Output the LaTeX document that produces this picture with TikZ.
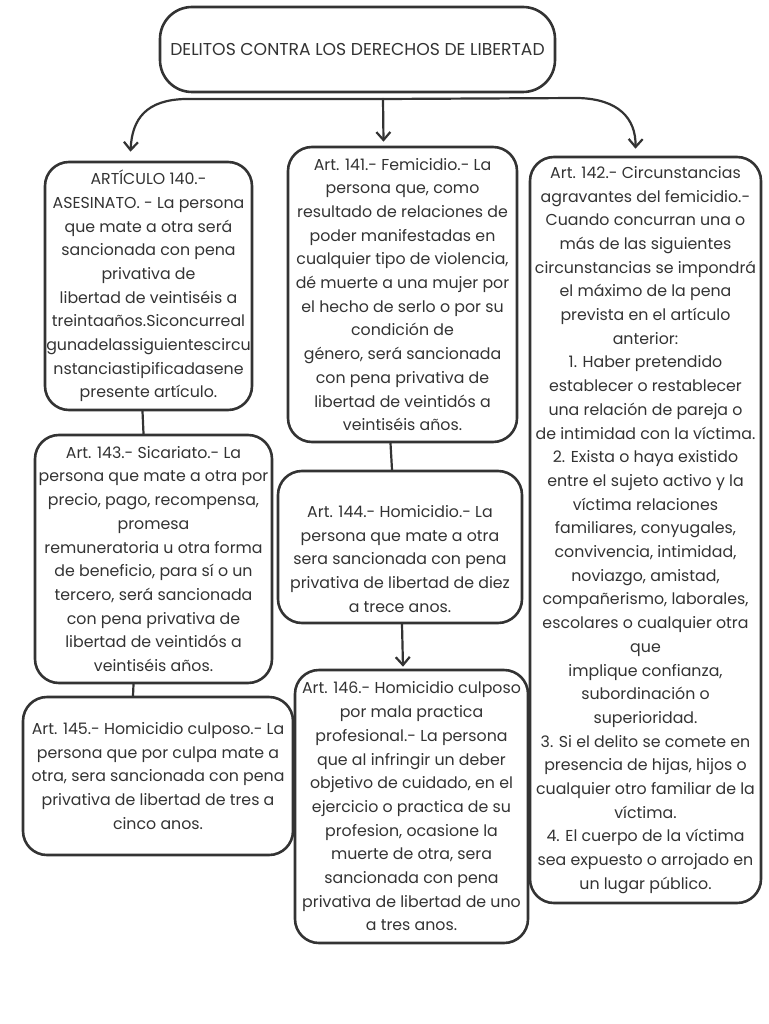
\documentclass[tikz,border=0pt]{standalone}
\usepackage{fontspec}
\setmainfont{Poppins}
\usetikzlibrary{arrows.meta}
\definecolor{ink}{HTML}{333333}
\definecolor{txt}{HTML}{333333}
\newcommand\boxfont{\fontsize{15.8}{23.7}\selectfont}
\newcommand\titlefont{\fontsize{17.2}{23.7}\selectfont}
\begin{document}
\begin{tikzpicture}[x=1pt,y=-1pt,
  box/.style={draw=ink, line width=2.6pt, rounded corners=24pt, align=center,
    text=txt, font=\boxfont, inner sep=0pt},
  link/.style={draw=ink, line width=2.2pt, line cap=round},
  arr/.style={link, -{Straight Barb[length=8pt,width=14pt,line width=2.2pt]}}]
\useasboundingbox[fill=white] (0,0) rectangle (768,1024);

\node[box, rounded corners=32pt, font=\titlefont, minimum width=395pt, minimum height=85pt] (top) at (357.5,49.5)
  {DELITOS CONTRA LOS DERECHOS DE LIBERTAD};

\node[box, minimum width=207pt, minimum height=248pt] (b140) at (148.5,286)
  {ARTÍCULO 140.-\\ASESINATO. - La persona\\que mate a otra será\\sancionada con pena\\privativa de\\libertad de veintiséis a\\treintaaños.Siconcurreal\\gunadelassiguientescircu\\nstanciastipificadasene\\presente artículo.};

\node[box, minimum width=229pt, minimum height=295pt] (b141) at (402.5,294.5)
  {Art. 141.- Femicidio.- La\\persona que, como\\resultado de relaciones de\\poder manifestadas en\\cualquier tipo de violencia,\\dé muerte a una mujer por\\el hecho de serlo o por su\\condición de\\género, será sancionada\\con pena privativa de\\libertad de veintidós a\\veintiséis años.};

\node[box, minimum width=231pt, minimum height=746pt] (b142) at (645.5,530)
  {Art. 142.- Circunstancias\\agravantes del femicidio.-\\Cuando concurran una o\\más de las siguientes\\circunstancias se impondrá\\el máximo de la pena\\prevista en el artículo\\anterior:\\1. Haber pretendido\\establecer o restablecer\\una relación de pareja o\\de intimidad con la víctima.\\2. Exista o haya existido\\entre el sujeto activo y la\\víctima relaciones\\familiares, conyugales,\\convivencia, intimidad,\\noviazgo, amistad,\\compañerismo, laborales,\\escolares o cualquier otra\\que\\implique confianza,\\subordinación o\\superioridad.\\3. Si el delito se comete en\\presencia de hijas, hijos o\\cualquier otro familiar de la\\víctima.\\4. El cuerpo de la víctima\\sea expuesto o arrojado en\\un lugar público.};

\node[box, minimum width=237pt, minimum height=248pt] (b143) at (153.5,559)
  {Art. 143.- Sicariato.- La\\persona que mate a otra por\\precio, pago, recompensa,\\promesa\\remuneratoria u otra forma\\de beneficio, para sí o un\\tercero, será sancionada\\con pena privativa de\\libertad de veintidós a\\veintiséis años.};

\node[box, minimum width=244pt, minimum height=152pt] (b144) at (400,547)
  {\rule{0pt}{36pt}Art. 144.- Homicidio.- La\\persona que mate a otra\\sera sancionada con pena\\privativa de libertad de diez\\a trece anos.};

\node[box, minimum width=270pt, minimum height=158pt] (b145) at (158,776)
  {Art. 145.- Homicidio culposo.- La\\persona que por culpa mate a\\otra, sera sancionada con pena\\privativa de libertad de tres a\\cinco anos.};

\node[box, minimum width=233pt, minimum height=273pt] (b146) at (411.5,806.5)
  {Art. 146.- Homicidio culposo\\por mala practica\\profesional.- La persona\\que al infringir un deber\\objetivo de cuidado, en el\\ejercicio o practica de su\\profesion, ocasione la\\muerte de otra, sera\\sancionada con pena\\privativa de libertad de uno\\a tres anos.};

\coordinate (hub) at (383,99);
\draw[arr] (hub) -- (185,99) .. controls (147,100) and (132,118) .. ([xshift=-18pt,yshift=9pt]b140.north);
\draw[arr] (hub) -- (578,98) .. controls (618,99) and (636,118) .. ([xshift=-10pt,yshift=7pt]b142.north);
\draw[arr] (hub) -- ([xshift=-19pt,yshift=4pt]b141.north);

\draw[link] ([xshift=-6pt]b140.south) -- ([xshift=-10pt]b143.north);
\draw[link] ([xshift=-20pt]b143.south) -- ([xshift=-25pt]b145.north);
\draw[link] ([xshift=-12pt]b141.south) -- ([xshift=-8pt]b144.north);
\draw[arr] ([xshift=2pt]b144.south) -- ([xshift=-8.5pt,yshift=2pt]b146.north);
\end{tikzpicture}
\end{document}
